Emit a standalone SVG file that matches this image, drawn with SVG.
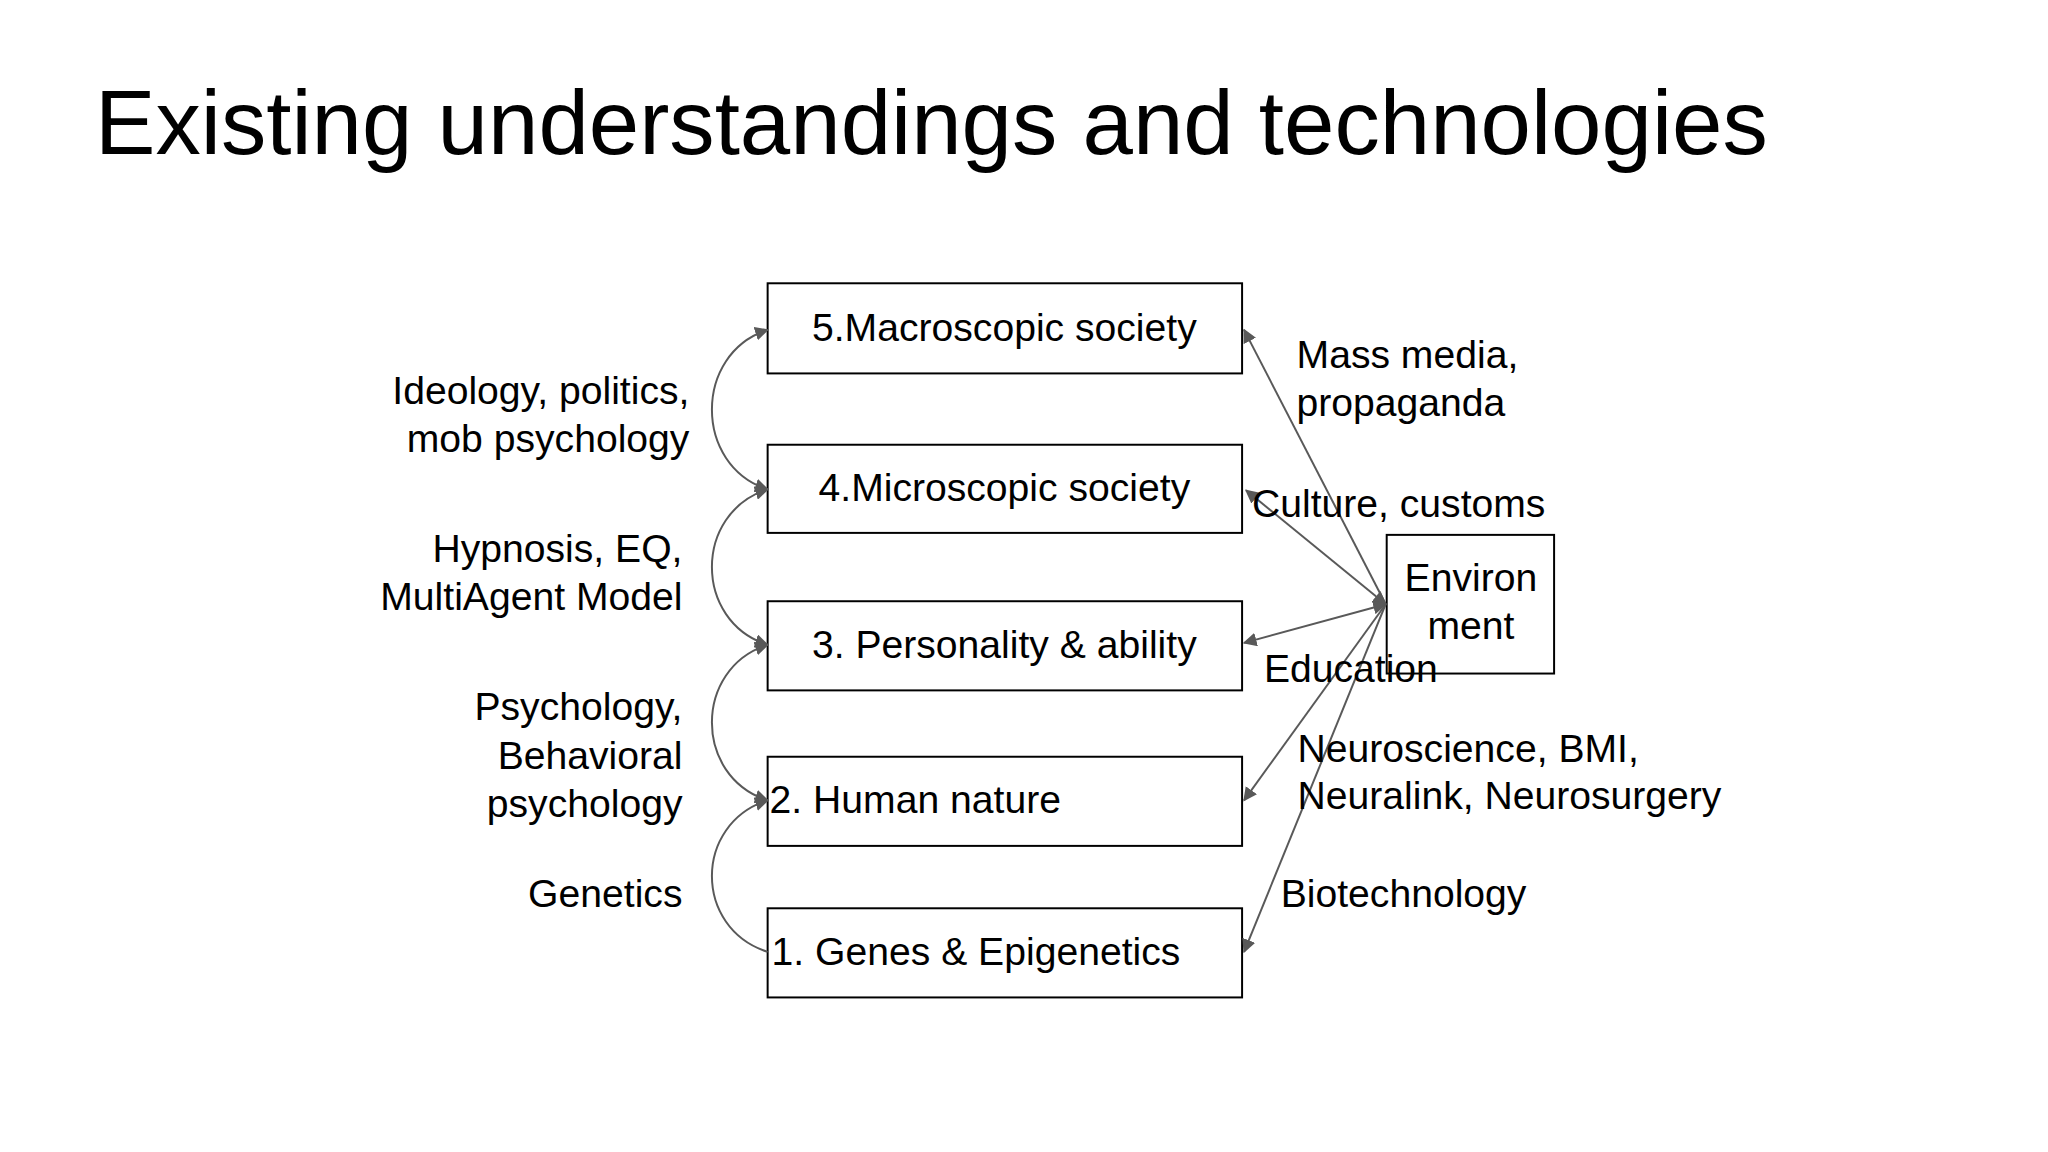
<svg xmlns="http://www.w3.org/2000/svg" width="2048" height="1152" viewBox="0 0 2048 1152">
<style>
text{font-family:"Liberation Sans",Arial,sans-serif;fill:#000}
.t{font-size:39.5px}
.c{text-anchor:middle}
.r{text-anchor:end}
.b{fill:#fff;stroke:#000;stroke-width:2}
.l{fill:none;stroke:#595959;stroke-width:2}
</style>
<defs><marker id="a" viewBox="0 0 10 10" refX="9" refY="5" markerWidth="7" markerHeight="7" orient="auto-start-reverse"><path d="M0,0L10,5L0,10z" fill="#595959"/></marker></defs>
<rect width="2048" height="1152" fill="#fff"/>
<g transform="scale(0.9905)">
<text x="96" y="155" font-size="91.5">Existing understandings and technologies</text>
<g id="n5"><rect class="b" x="775" y="286" width="479" height="91"/><text class="t c" x="1014" y="344">5.Macroscopic society</text></g>
<g id="n4"><rect class="b" x="775" y="449" width="479" height="89"/><text class="t c" x="1014" y="506">4.Microscopic society</text></g>
<g id="n3"><rect class="b" x="775" y="607" width="479" height="90"/><text class="t c" x="1014" y="664">3. Personality &amp; ability</text></g>
<g id="n2"><rect class="b" x="775" y="764" width="479" height="90"/><text class="t" x="777" y="821">2. Human nature</text></g>
<g id="n1"><rect class="b" x="775" y="917" width="479" height="90"/><text class="t" x="779" y="974">1. Genes &amp; Epigenetics</text></g>
<g id="env"><rect class="b" x="1400" y="540" width="169" height="140"/><text class="t c" x="1485" y="597">Environ</text><text class="t c" x="1485" y="645">ment</text></g>
<g id="connectors">
<path class="l" d="M775,494C700,470 700,357 775,333" marker-end="url(#a)" marker-start="url(#a)"/>
<path class="l" d="M775,651C700,627 700,518 775,494" marker-end="url(#a)" marker-start="url(#a)"/>
<path class="l" d="M775,808C700,784 700,675 775,651" marker-end="url(#a)" marker-start="url(#a)"/>
<path class="l" d="M775,961C700,937 700,832 775,808" marker-end="url(#a)"/>
<path class="l" d="M1399,610L1256,333" marker-end="url(#a)"/>
<path class="l" d="M1399,610L1258,495" marker-end="url(#a)" marker-start="url(#a)"/>
<path class="l" d="M1399,610L1256,649" marker-end="url(#a)" marker-start="url(#a)"/>
<path class="l" d="M1399,610L1256,808" marker-end="url(#a)"/>
<path class="l" d="M1399,610L1256,961" marker-end="url(#a)"/>
</g>
<g id="labels">
<text class="t r" x="696" y="408">Ideology, politics,</text>
<text class="t r" x="696" y="456">mob psychology</text>
<text class="t r" x="689" y="567">Hypnosis, EQ,</text>
<text class="t r" x="689" y="616">MultiAgent Model</text>
<text class="t r" x="689" y="727">Psychology,</text>
<text class="t r" x="689" y="776">Behavioral</text>
<text class="t r" x="689" y="825">psychology</text>
<text class="t r" x="689" y="916">Genetics</text>
<text class="t" x="1309" y="372">Mass media,</text>
<text class="t" x="1309" y="420">propaganda</text>
<text class="t" x="1264" y="522">Culture, customs</text>
<text class="t" x="1276" y="689">Education</text>
<text class="t" x="1310" y="769">Neuroscience, BMI,</text>
<text class="t" x="1310" y="817">Neuralink, Neurosurgery</text>
<text class="t" x="1293" y="916">Biotechnology</text>
</g>
</g>
</svg>
